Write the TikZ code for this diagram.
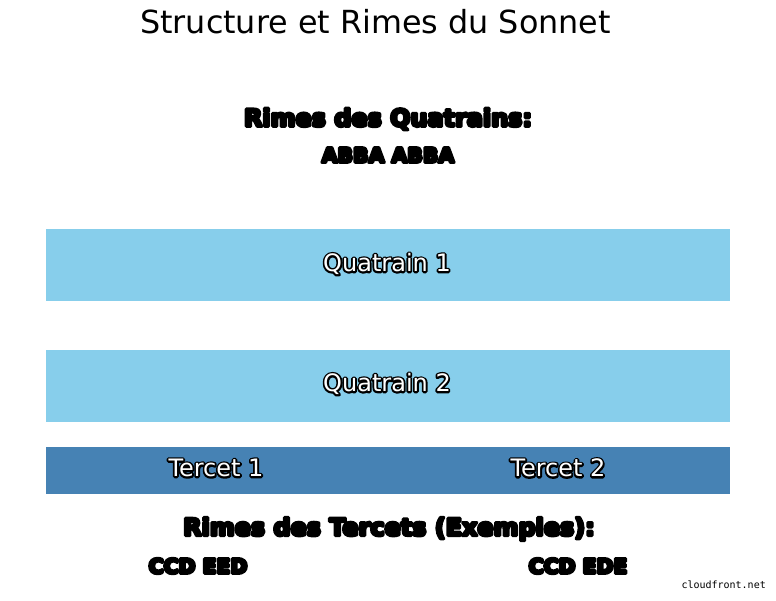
\documentclass[tikz,border=0pt]{standalone}
\usepackage{fontspec}
\setmainfont{DejaVu Sans}
\newfontfamily\monofont{DejaVu Sans Mono}
\usetikzlibrary{positioning}
\definecolor{skyband}{HTML}{87CEEB}
\definecolor{steelband}{HTML}{4682B4}
% text whose letters get a black stroke of the given width
\newcommand{\stroked}[2]{\special{pdf:literal direct 2 Tr #1 w 1 j 0 G}#2\special{pdf:literal direct 0 Tr 0.4 w 0 j}}
% white text over a black stroked copy: style, name, position, text
\newcommand{\haloed}[4]{%
  \node[#1,text=black] at (#3) {\stroked{3.6}{#4}};
  \node[#1,text=white] (#2) at (#3) {#4};}

\begin{document}
\begin{tikzpicture}[x=1pt,y=-1pt,
  band/.style={draw=none},
  boxlabel/.style={font=\fontsize{24}{27}\selectfont,inner sep=0pt},
  rhymehead/.style={font=\bfseries\fontsize{23.9}{27}\selectfont,inner sep=0pt},
  rhyme/.style={font=\bfseries\fontsize{20.4}{23}\selectfont,inner sep=0pt}]
\useasboundingbox[fill=white] (0,0) rectangle (776,600);
\node[font=\fontsize{31.8}{35}\selectfont,inner sep=0pt] (title) at (375.5,22) {Structure et Rimes du Sonnet};

\node[rhymehead] (qhead) at (388,119) {\stroked{3}{Rimes des Quatrains:}};
\node[rhyme] (qrhyme) at (388,155) {\stroked{3}{ABBA ABBA}};

\draw[band,fill=skyband] (46,229) rectangle (730,301);
\draw[band,fill=skyband] (46,350) rectangle (730,422);
\draw[band,fill=steelband] (46,447) rectangle (730,494);

\haloed{boxlabel}{q1}{387,264}{Quatrain 1}
\haloed{boxlabel}{q2}{387,384}{Quatrain 2}
\haloed{boxlabel}{t1}{216,468}{Tercet 1}
\haloed{boxlabel}{t2}{558,468}{Tercet 2}

\node[rhymehead] (thead) at (389,529) {\stroked{3}{Rimes des Tercets (Exemples):}};
\node[rhyme] (t1rhyme) at (198,566) {\stroked{3}{CCD EED}};
\node[rhyme] (t2rhyme) at (578,566) {\stroked{3}{CCD EDE}};

\node[font=\monofont\fontsize{10}{12}\selectfont,anchor=east,inner sep=0pt] (mark) at (766,585) {cloudfront.net};
\end{tikzpicture}
\end{document}
